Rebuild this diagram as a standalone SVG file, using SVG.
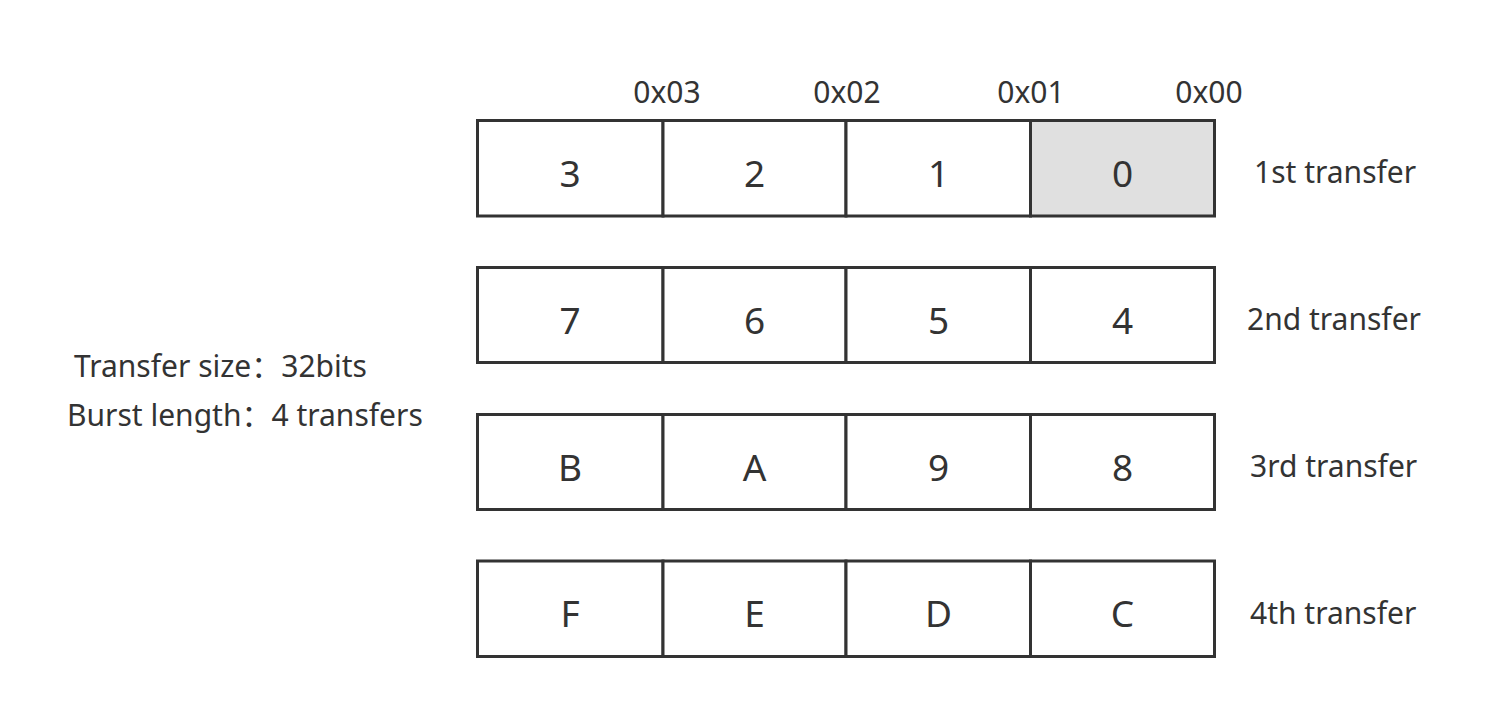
<svg xmlns="http://www.w3.org/2000/svg" width="1504" height="706" viewBox="0 0 1504 706">
<style>
.cell{fill:#ffffff;stroke:#333333;stroke-width:3}
.hl{fill:#e0e0e0}
.v{font-family:"Noto Sans","Open Sans","Noto Sans CJK SC",sans-serif;font-size:37px;fill:#333333;text-anchor:middle}
.lbl{font-family:"Noto Sans","Open Sans","Noto Sans CJK SC",sans-serif;font-size:30px;fill:#333333}
.addr{text-anchor:middle}
</style>
<rect width="1504" height="706" fill="#ffffff"/>
<g id="addresses">
<text class="lbl addr" x="667" y="103">0x03</text>
<text class="lbl addr" x="847" y="103">0x02</text>
<text class="lbl addr" x="1031" y="103">0x01</text>
<text class="lbl addr" x="1209" y="103">0x00</text>
</g>
<g id="row1">
<rect class="cell" x="477.5" y="120.5" width="185.5" height="95.5"/>
<rect class="cell" x="663" y="120.5" width="183" height="95.5"/>
<rect class="cell" x="846" y="120.5" width="184.5" height="95.5"/>
<rect class="cell hl" x="1030.5" y="120.5" width="184" height="95.5"/>
<text class="v" x="570" y="187">3</text>
<text class="v" x="754.5" y="187">2</text>
<text class="v" x="938.5" y="187">1</text>
<text class="v" x="1122.5" y="187">0</text>
<text class="lbl" x="1254" y="183">1st transfer</text>
</g>
<g id="row2">
<rect class="cell" x="477.5" y="267.5" width="185.5" height="95"/>
<rect class="cell" x="663" y="267.5" width="183" height="95"/>
<rect class="cell" x="846" y="267.5" width="184.5" height="95"/>
<rect class="cell" x="1030.5" y="267.5" width="184" height="95"/>
<text class="v" x="570" y="334">7</text>
<text class="v" x="754.5" y="334">6</text>
<text class="v" x="938.5" y="334">5</text>
<text class="v" x="1122.5" y="334">4</text>
<text class="lbl" x="1247" y="330">2nd transfer</text>
</g>
<g id="row3">
<rect class="cell" x="477.5" y="414.5" width="185.5" height="95"/>
<rect class="cell" x="663" y="414.5" width="183" height="95"/>
<rect class="cell" x="846" y="414.5" width="184.5" height="95"/>
<rect class="cell" x="1030.5" y="414.5" width="184" height="95"/>
<text class="v" x="570" y="481">B</text>
<text class="v" x="754.5" y="481">A</text>
<text class="v" x="938.5" y="481">9</text>
<text class="v" x="1122.5" y="481">8</text>
<text class="lbl" x="1250" y="477">3rd transfer</text>
</g>
<g id="row4">
<rect class="cell" x="477.5" y="561" width="185.5" height="95.5"/>
<rect class="cell" x="663" y="561" width="183" height="95.5"/>
<rect class="cell" x="846" y="561" width="184.5" height="95.5"/>
<rect class="cell" x="1030.5" y="561" width="184" height="95.5"/>
<text class="v" x="570" y="627">F</text>
<text class="v" x="754.5" y="627">E</text>
<text class="v" x="938.5" y="627">D</text>
<text class="v" x="1122.5" y="627">C</text>
<text class="lbl" x="1250" y="624">4th transfer</text>
</g>
<g id="info">
<text class="lbl" x="74" y="377">Transfer size：32bits</text>
<text class="lbl" x="67" y="426">Burst length：4 transfers</text>
</g>
</svg>
